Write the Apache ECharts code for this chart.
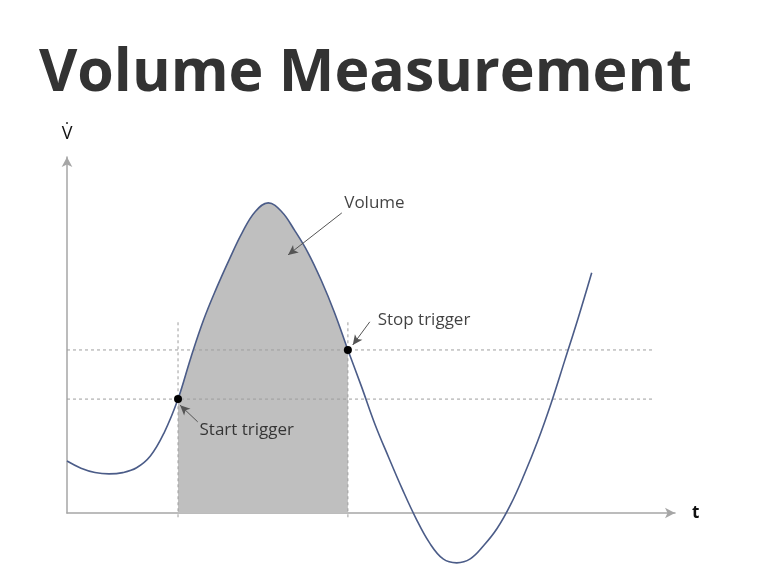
<!DOCTYPE html>
<html>
<head>
<meta charset="utf-8">
<script src="https://cdn.jsdelivr.net/npm/echarts@6/dist/echarts.min.js"></script>
<style>
html,body{margin:0;padding:0;background:#fff;}
#main{width:768px;height:588px;}
</style>
</head>
<body>
<div id="main"></div>
<script>
// ---- data (time and flow in arbitrary units) ----
const timeVals = [0, 2.3, 4.6, 6.9, 9.17, 11.44, 13.71, 15.99, 18.26, 20.38, 22.5, 24.62, 26.74, 28.86, 30.98, 33.1, 35.28, 37.47, 39.65, 41.83, 44.02, 46.2, 48.44, 50.68, 52.91, 55.15, 57.39, 59.63, 61.86, 64.1, 66.32, 68.54, 70.76, 72.98, 75.2, 77.42, 79.64, 81.86, 84.08, 86.3];
const flowVals = [14.6, 12.6, 11.4, 11.0, 11.35, 12.7, 16.0, 22.6, 32.0, 43.7, 54.4, 63.3, 71.4, 78.9, 84.7, 87.1, 84.7, 79.3, 73.1, 65.3, 56.2, 45.8, 35.5, 24.8, 15.6, 6.7, -1.5, -8.4, -12.9, -14.0, -12.9, -9.15, -4.3, 2.4, 10.8, 20.2, 30.9, 42.8, 54.8, 67.5];
const startTrigger = [18.26, 32.0];
const stopTrigger = [46.2, 45.8];
const titleText = 'Volume Measurement';
const yName = 'V\u0307';
const xName = 't';
const labels = ['Volume', 'Stop trigger', 'Start trigger'];
const labelPos = [[45.6, 87.1], [51.1, 54.2], [21.8, 23.3]];
const arrowLines = [
  [[45.2, 84.3], [36.35, 72.5]],
  [[49.8, 53.7], [47.0, 47.2]],
  [[21.5, 25.6], [18.6, 30.3]]
];
const guideTop = 53.7, guideBottom = -1.2, guideRight = 96.7;

const curve = timeVals.map((t, i) => [t, flowVals[i]]);
const fill = curve.filter(p => p[0] >= startTrigger[0] && p[0] <= stopTrigger[0]);

const guides = [
  [[0, startTrigger[1]], [guideRight, startTrigger[1]]],
  [[0, stopTrigger[1]], [guideRight, stopTrigger[1]]],
  [[startTrigger[0], guideBottom], [startTrigger[0], guideTop]],
  [[stopTrigger[0], guideBottom], [stopTrigger[0], guideTop]]
];

const chart = echarts.init(document.getElementById('main'), null, {renderer: 'canvas'});
const series = [
  {
    type: 'line', data: fill, smooth: 0.4, symbol: 'none', clip: false, silent: true,
    lineStyle: {width: 0, opacity: 0},
    areaStyle: {color: '#bfbfbf', opacity: 1, origin: 'start'},
    z: 1
  }
];
guides.forEach(g => series.push({
  type: 'line', data: g, symbol: 'none', clip: false, silent: true,
  lineStyle: {type: [3, 3], color: '#9e9e9e', width: 1},
  z: 2
}));
series.push(
  {
    type: 'line', data: curve, smooth: 0.4, symbol: 'none', clip: false, silent: true,
    lineStyle: {color: '#4b5c88', width: 1.6},
    z: 3
  },
  {
    type: 'line', data: [], symbol: 'none', clip: false, silent: true,
    markLine: {
      silent: true, symbol: ['none', 'arrow'], symbolSize: [7, 10], label: {show: false},
      lineStyle: {type: 'solid', color: '#555', width: 1},
      data: arrowLines.map(a => [{coord: a[0]}, {coord: a[1]}])
    },
    z: 5
  },
  {
    type: 'scatter', data: [startTrigger, stopTrigger], symbol: 'circle', symbolSize: 8,
    itemStyle: {color: '#000', opacity: 1}, silent: true, clip: false, z: 10
  },
  {
    type: 'scatter', symbolSize: 0, silent: true, clip: false,
    data: labelPos.map((p, i) => ({value: [p[0], p[1]], name: labels[i]})),
    label: {show: true, position: 'right', distance: 0, formatter: '{b}',
      fontFamily: 'Open Sans', fontSize: 17, color: '#111'},
    z: 6
  }
);

chart.setOption({
  animation: false,
  backgroundColor: '#fff',
  title: {
    text: titleText,
    left: 34, top: 40,
    textStyle: {fontFamily: 'Open Sans', fontWeight: 'bold', fontSize: 59, color: '#333333'}
  },
  grid: {left: 67, right: 93, top: 157, bottom: 75},
  xAxis: {
    type: 'value', min: 0, max: 100,
    name: xName, nameLocation: 'end', nameGap: 17,
    nameTextStyle: {fontFamily: 'Open Sans', fontSize: 17, fontWeight: 'bold', color: '#111', verticalAlign: 'middle'},
    axisLine: {show: true, onZero: true, symbol: ['none', 'arrow'], symbolSize: [8, 10], lineStyle: {color: '#a6a6a6', width: 1.5}},
    axisTick: {show: false}, axisLabel: {show: false}, splitLine: {show: false}
  },
  yAxis: {
    type: 'value', min: 0, max: 100,
    name: yName, nameLocation: 'end', nameGap: 14,
    nameTextStyle: {fontFamily: 'Open Sans', fontSize: 18, color: '#111', align: 'center'},
    axisLine: {show: true, onZero: true, symbol: ['none', 'arrow'], symbolSize: [8, 10], lineStyle: {color: '#a6a6a6', width: 1.5}},
    axisTick: {show: false}, axisLabel: {show: false}, splitLine: {show: false}
  },
  series: series
});
</script>
</body>
</html>
